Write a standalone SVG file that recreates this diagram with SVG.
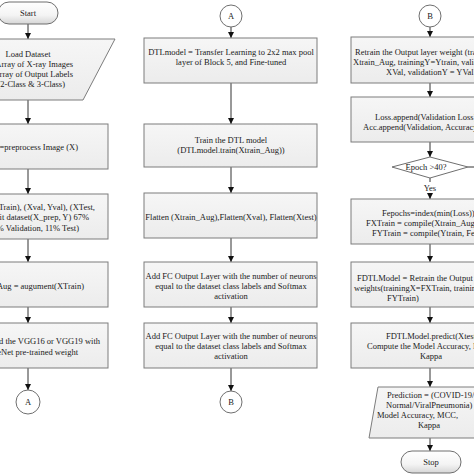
<svg xmlns="http://www.w3.org/2000/svg" width="474" height="474" viewBox="0 0 474 474">
<defs>
<linearGradient id="pill" x1="0" y1="0" x2="0" y2="1">
<stop offset="0" stop-color="#ffffff"/>
<stop offset="0.6" stop-color="#f4f4f4"/>
<stop offset="1" stop-color="#d6d6d6"/>
</linearGradient>
<linearGradient id="box" x1="0" y1="0" x2="0" y2="1">
<stop offset="0" stop-color="#f6f6f6"/>
<stop offset="1" stop-color="#ececec"/>
</linearGradient>
<marker id="ah" markerUnits="userSpaceOnUse" markerWidth="6" markerHeight="6" refX="6" refY="3" orient="auto">
<path d="M0,0 L6,3 L0,6 z" fill="#111"/>
</marker>
</defs>
<style>
.b{fill:url(#box);stroke:#7c7c7c;stroke-width:1}
.p{fill:url(#pill);stroke:#6f6f6f;stroke-width:1}
.c{fill:#fff;stroke:#6f6f6f;stroke-width:1}
.t{font-family:"Liberation Serif","Times New Roman",serif;font-size:8.5px;fill:#1a1a1a}
.m{text-anchor:middle}
.e{text-anchor:end}
.s{text-anchor:start}
.l{stroke:#333;stroke-width:1;fill:none}
.a{stroke:#333;stroke-width:1;fill:none;marker-end:url(#ah)}
</style>
<rect width="474" height="474" fill="#fff"/>

<g id="connectors">
<line class="a" x1="28" y1="24" x2="28" y2="39"/>
<line class="a" x1="28" y1="100" x2="28" y2="124"/>
<line class="a" x1="28" y1="169" x2="28" y2="194"/>
<line class="a" x1="28" y1="239" x2="28" y2="262"/>
<line class="a" x1="28" y1="307" x2="28" y2="323"/>
<line class="a" x1="28" y1="368" x2="28" y2="390"/>
<line class="a" x1="231" y1="27" x2="231" y2="38"/>
<line class="a" x1="231" y1="83" x2="231" y2="124"/>
<line class="a" x1="231" y1="167" x2="231" y2="193"/>
<line class="a" x1="231" y1="238" x2="231" y2="262"/>
<line class="a" x1="231" y1="307" x2="231" y2="323"/>
<line class="a" x1="231" y1="368" x2="231" y2="391"/>
<line class="a" x1="430" y1="27" x2="430" y2="37"/>
<line class="a" x1="430" y1="83" x2="430" y2="97"/>
<line class="a" x1="430" y1="142" x2="430" y2="157"/>
<line class="l" x1="430" y1="178" x2="430" y2="182"/>
<line class="a" x1="430" y1="193" x2="430" y2="199"/>
<line class="l" x1="468" y1="167" x2="474" y2="167"/>
<line class="a" x1="430" y1="244" x2="430" y2="262"/>
<line class="a" x1="430" y1="307" x2="430" y2="323"/>
<line class="a" x1="430" y1="368" x2="430" y2="387"/>
<line class="a" x1="430" y1="438" x2="430" y2="451"/>
</g>

<g id="start">
<rect class="p" x="-2" y="2" width="60" height="22" rx="11"/>
<text class="t m" x="28" y="16">Start</text>
</g>
<g id="load-dataset">
<polygon class="b" points="-58,39 115,39 83,100 -90,100"/>
<text class="t m" x="28" y="57">Load Dataset</text>
<text class="t e" x="73" y="67">Array of X-ray Images</text>
<text class="t e" x="73" y="77">Array of Output Labels</text>
<text class="t e" x="65" y="87">(2-Class &amp; 3-Class)</text>
</g>
<g id="preprocess">
<rect class="b" x="-52" y="124" width="160" height="45"/>
<text class="t e" x="78" y="150">X_prep=preprocess Image (X)</text>
</g>
<g id="split">
<rect class="b" x="-52" y="194" width="160" height="45"/>
<text class="t e" x="95" y="210">(XTrain, YTrain), (Xval, Yval), (XTest,</text>
<text class="t e" x="89" y="220">YTest) = split dataset(X_prep, Y) 67%</text>
<text class="t e" x="79" y="231">Train, 22% Validation, 11% Test)</text>
</g>
<g id="augment">
<rect class="b" x="-52" y="262" width="160" height="45"/>
<text class="t e" x="84" y="289">XTrain_Aug = augument(XTrain)</text>
</g>
<g id="load-vgg">
<rect class="b" x="-52" y="323" width="160" height="45"/>
<text class="t e" x="100" y="344">Load the VGG16 or VGG19 with</text>
<text class="t e" x="78" y="355">ImageNet pre-trained weight</text>
</g>
<g id="conn-a1">
<circle class="c" cx="28" cy="402" r="12"/>
<text class="t m" x="28" y="405">A</text>
</g>

<g id="conn-a2">
<circle class="c" cx="231" cy="16" r="11"/>
<text class="t m" x="231" y="19">A</text>
</g>
<g id="dtl-model">
<rect class="b" x="144" y="38" width="173" height="45"/>
<text class="t m" x="231" y="55">DTLmodel = Transfer Learning to 2x2 max pool</text>
<text class="t m" x="231" y="65">layer of Block 5, and Fine-tuned</text>
</g>
<g id="train-dtl">
<rect class="b" x="144" y="124" width="173" height="43"/>
<text class="t m" x="231" y="143">Train the DTL model</text>
<text class="t m" x="231" y="153">(DTLmodel.train(Xtrain_Aug))</text>
</g>
<g id="flatten">
<rect class="b" x="144" y="193" width="173" height="45"/>
<text class="t m" x="231" y="220">Flatten (Xtrain_Aug),Flatten(Xval), Flatten(Xtest)</text>
</g>
<g id="add-fc-1">
<rect class="b" x="144" y="262" width="173" height="45"/>
<text class="t m" x="231" y="279">Add FC Output Layer with the number of neurons</text>
<text class="t m" x="231" y="289">equal to the dataset class labels and Softmax</text>
<text class="t m" x="231" y="299">activation</text>
</g>
<g id="add-fc-2">
<rect class="b" x="144" y="323" width="173" height="45"/>
<text class="t m" x="231" y="339">Add FC Output Layer with the number of neurons</text>
<text class="t m" x="231" y="349">equal to the dataset class labels and Softmax</text>
<text class="t m" x="231" y="359">activation</text>
</g>
<g id="conn-b1">
<circle class="c" cx="231" cy="402" r="11"/>
<text class="t m" x="231" y="405">B</text>
</g>

<g id="conn-b2">
<circle class="c" cx="430" cy="16" r="11"/>
<text class="t m" x="430" y="19">B</text>
</g>
<g id="retrain">
<rect class="b" x="351" y="37" width="160" height="46"/>
<text class="t s" x="355" y="55">Retrain the Output layer weight (trainingX=</text>
<text class="t s" x="353" y="65">Xtrain_Aug, trainingY=Ytrain, validationX=</text>
<text class="t s" x="386" y="75">XVal, validationY = YVal)</text>
</g>
<g id="append">
<rect class="b" x="351" y="97" width="160" height="45"/>
<text class="t s" x="375" y="120">Loss.append(Validation Loss)</text>
<text class="t s" x="363" y="130">Acc.append(Validation, Accuracy)</text>
</g>
<g id="epoch-check">
<polygon class="c" points="392,167 430,157 468,167 430,178"/>
<text class="t m" x="426" y="170">Epoch &gt;40?</text>
<text class="t m" x="430" y="191">Yes</text>
</g>
<g id="fepochs">
<rect class="b" x="351" y="199" width="160" height="45"/>
<text class="t s" x="382" y="216">Fepochs=index(min(Loss))</text>
<text class="t s" x="366" y="226">FXTrain = compile(Xtrain_Aug, Fepochs)</text>
<text class="t s" x="372" y="236">FYTrain =  compile(Ytrain, Fepochs)</text>
</g>
<g id="fdtl-model">
<rect class="b" x="351" y="262" width="160" height="45"/>
<text class="t s" x="357" y="281">FDTLModel = Retrain the Output layer</text>
<text class="t s" x="354" y="291">weights(trainingX=FXTrain, trainingY=</text>
<text class="t s" x="387" y="301">FYTrain)</text>
</g>
<g id="predict">
<rect class="b" x="351" y="323" width="160" height="45"/>
<text class="t s" x="386" y="339">FDTLModel.predict(Xtest)</text>
<text class="t s" x="367" y="349">Compute the Model Accuracy, MCC,</text>
<text class="t m" x="431" y="359">Kappa</text>
</g>
<g id="prediction">
<polygon class="b" points="378,387 520,387 511,438 369,438"/>
<text class="t s" x="387" y="398">Prediction = (COVID-19/</text>
<text class="t s" x="386" y="408">Normal/ViralPneumonia)</text>
<text class="t s" x="377" y="418">Model Accuracy, MCC,</text>
<text class="t m" x="429" y="428">Kappa</text>
</g>
<g id="stop">
<rect class="p" x="401" y="451" width="60" height="22" rx="11"/>
<text class="t m" x="431" y="465">Stop</text>
</g>
</svg>
